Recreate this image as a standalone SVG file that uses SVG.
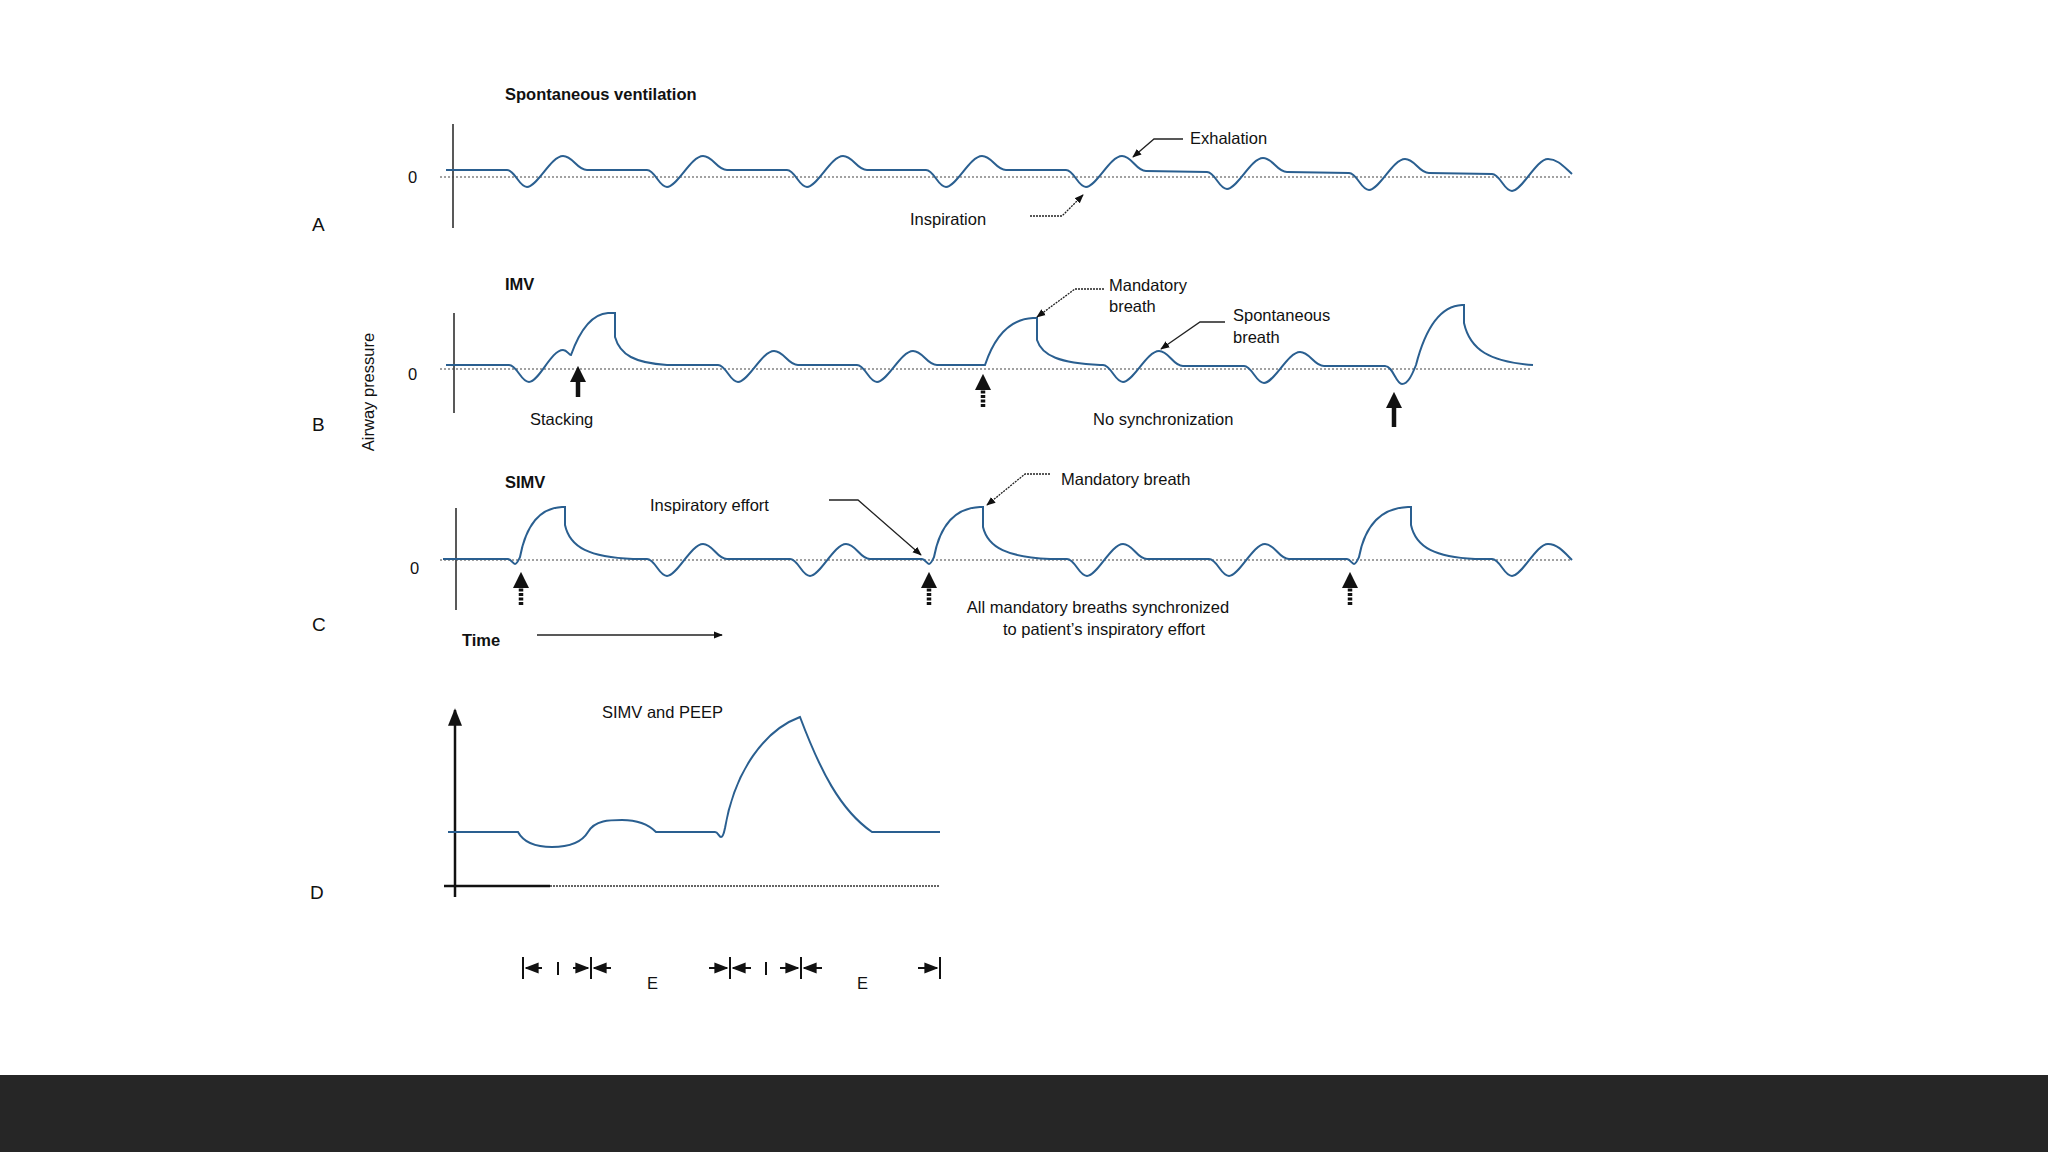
<svg xmlns="http://www.w3.org/2000/svg" width="2048" height="1152" viewBox="0 0 2048 1152">
<style>
text{font-family:"Liberation Sans",Arial,sans-serif;font-size:16.5px;fill:#111}
.b{font-weight:bold}
.big{font-size:19px}
.tr{fill:none;stroke:#2a5f90;stroke-width:2}
.ax{stroke:#222;stroke-width:1.5;fill:none}
.dot{stroke:#444;stroke-width:1.2;stroke-dasharray:2 2;fill:none}
.ld{stroke:#222;stroke-width:1.3;fill:none}
.up{stroke:#111;stroke-width:4.5;fill:none}
.hat{stroke:#111;stroke-width:4.5;stroke-dasharray:3 1.5;fill:none}
</style>
<defs>
<marker id="ah" viewBox="0 0 10 10" refX="9" refY="5" markerWidth="7" markerHeight="7" orient="auto"><path d="M0,1 L10,5 L0,9 Z" fill="#111"/></marker>
<marker id="big" viewBox="0 0 10 10" refX="5" refY="5" markerWidth="3.6" markerHeight="3.6" orient="auto"><path d="M0,0 L10,5 L0,10 Z" fill="#111"/></marker>
</defs>
<rect width="2048" height="1152" fill="#fff"/>
<rect x="0" y="1075" width="2048" height="77" fill="#262626"/>

<g id="panelA">
<text x="505" y="100" class="b">Spontaneous ventilation</text>
<text x="408" y="183">0</text>
<text x="312" y="231" class="big">A</text>
<line class="ax" x1="453" y1="124" x2="453" y2="228"/>
<line class="dot" x1="440" y1="177" x2="1570" y2="177"/>
<path class="tr" d="M446,170 L507,170 C515,170 519,187 527,187 C537,187 551,156 563,156 C573,156 577,170 587,170 L647,170 C655,170 659,187 667,187 C677,187 691,156 703,156 C713,156 717,170 727,170 L787,170 C795,170 799,187 807,187 C817,187 831,156 843,156 C853,156 857,170 867,170 L926,170 C934,170 938,187 946,187 C956,187 970,156 982,156 C992,156 996,170 1006,170 L1066,170 C1074,170 1078,187 1086,187 C1096,187 1110,156 1122,156 C1132,156 1136,171 1146,171 L1207,172 C1215,172 1219,189 1227,189 C1237,189 1251,158 1263,158 C1273,158 1277,172 1287,172 L1349,173 C1357,173 1361,190 1369,190 C1379,190 1393,159 1405,159 C1415,159 1419,173 1429,173 L1492,174 C1500,174 1504,191 1512,191 C1522,191 1536,159 1548,159 C1558,159 1565,168 1572,174"/>
<text x="1190" y="144">Exhalation</text>
<polyline class="ld" points="1183,139 1154,139 1133,157" marker-end="url(#ah)"/>
<text x="910" y="225">Inspiration</text>
<polyline class="ld" stroke-dasharray="2 1" points="1030,216 1062,216 1083,195" marker-end="url(#ah)"/>
</g>

<g id="panelB">
<text x="505" y="290" class="b">IMV</text>
<text x="408" y="380">0</text>
<text x="312" y="431" class="big">B</text>
<text x="0" y="0" transform="translate(374,392) rotate(-90)" text-anchor="middle">Airway pressure</text>
<line class="ax" x1="454" y1="313" x2="454" y2="413"/>
<line class="dot" x1="440" y1="369" x2="1532" y2="369"/>
<path class="tr" d="M446,365 L509,365 C517,365 521,382 529,382 C539,382 551,350 563,350 C567,350 569,355 571,355 C580,330 592,314 608,313 L615,313 L615,337 C620,355 635,363 667,365 L718,365 C726,365 730,382 738,382 C748,382 762,351 774,351 C784,351 788,365 798,365 L857,365 C865,365 869,382 877,382 C887,382 901,351 913,351 C923,351 927,365 937,365 L985,365 C995,335 1010,319 1033,318 L1037,318 L1037,340 C1042,356 1060,363 1100,365 L1103,365 C1111,365 1115,382 1123,382 C1133,382 1147,351 1159,351 C1169,351 1173,366 1183,366 L1244,366 C1252,366 1256,383 1264,383 C1274,383 1288,352 1300,352 C1310,352 1314,366 1324,366 L1385,366 C1393,366 1396,384 1402,384 C1408,384 1412,375 1416,365 C1425,330 1440,306 1462,305 L1464,305 L1464,323 C1470,350 1490,362 1533,365"/>
<line class="up" x1="578" y1="397" x2="578" y2="374" marker-end="url(#big)"/>
<line class="hat" x1="983" y1="407" x2="983" y2="382" marker-end="url(#big)"/>
<line class="up" x1="1394" y1="427" x2="1394" y2="400" marker-end="url(#big)"/>
<text x="530" y="425">Stacking</text>
<text x="1093" y="425">No synchronization</text>
<text x="1109" y="291">Mandatory</text>
<text x="1109" y="312">breath</text>
<polyline class="ld" stroke-dasharray="2 1" points="1104,289 1075,289 1037,317" marker-end="url(#ah)"/>
<text x="1233" y="321">Spontaneous</text>
<text x="1233" y="343">breath</text>
<polyline class="ld" points="1225,322 1200,322 1161,349" marker-end="url(#ah)"/>
</g>

<g id="panelC">
<text x="505" y="488" class="b">SIMV</text>
<text x="410" y="574">0</text>
<text x="312" y="631" class="big">C</text>
<line class="ax" x1="456" y1="508" x2="456" y2="610"/>
<line class="dot" x1="440" y1="560" x2="1570" y2="560"/>
<path class="tr" d="M443,559 L508,559 C511,559 513,564 515,564 C517,564 519,559 520,557 C526,525 540,508 562,507 L565,507 L565,525 C570,548 590,557 633,559 L647,559 C655,559 659,576 667,576 C677,576 691,544 703,544 C713,544 717,559 727,559 L790,559 C798,559 802,576 810,576 C820,576 834,544 846,544 C856,544 860,559 870,559 L922,559 C925,559 927,564 929,564 C931,564 933,559 934,557 C940,525 956,508 980,507 L983,507 L983,527 C988,548 1008,557 1050,559 L1067,559 C1075,559 1079,576 1087,576 C1097,576 1111,544 1123,544 C1133,544 1137,559 1147,559 L1209,559 C1217,559 1221,576 1229,576 C1239,576 1253,544 1265,544 C1275,544 1279,559 1289,559 L1347,559 C1350,559 1352,564 1354,564 C1356,564 1358,559 1359,557 C1365,525 1382,508 1408,507 L1411,507 L1411,525 C1416,548 1436,557 1475,559 L1492,559 C1500,559 1504,576 1512,576 C1522,576 1536,544 1548,544 C1558,544 1565,553 1572,560"/>
<line class="hat" x1="521" y1="605" x2="521" y2="580" marker-end="url(#big)"/>
<line class="hat" x1="929" y1="605" x2="929" y2="580" marker-end="url(#big)"/>
<line class="hat" x1="1350" y1="605" x2="1350" y2="580" marker-end="url(#big)"/>
<text x="650" y="511">Inspiratory effort</text>
<polyline class="ld" points="829,500 858,500 921,555" marker-end="url(#ah)"/>
<text x="1061" y="485">Mandatory breath</text>
<polyline class="ld" stroke-dasharray="2 1" points="1050,474 1025,474 987,505" marker-end="url(#ah)"/>
<text x="1098" y="613" text-anchor="middle">All mandatory breaths synchronized</text>
<text x="1104" y="635" text-anchor="middle">to patient’s inspiratory effort</text>
<text x="462" y="646" class="b">Time</text>
<line class="ld" x1="537" y1="635" x2="722" y2="635" marker-end="url(#ah)"/>
</g>

<g id="panelD">
<text x="602" y="718">SIMV and PEEP</text>
<text x="310" y="899" class="big">D</text>
<line x1="455" y1="897" x2="455" y2="710" stroke="#111" stroke-width="2.5" marker-end="url(#ah)"/>
<line x1="444" y1="886" x2="550" y2="886" stroke="#111" stroke-width="2.5"/>
<line x1="550" y1="886" x2="940" y2="886" stroke="#333" stroke-width="1.5" stroke-dasharray="2 1"/>
<path class="tr" d="M448,832 L518,832 C525,845 540,847 552,847 C570,847 582,842 588,832 C595,820 610,820 622,820 C640,820 650,826 656,832 L715,832 C718,832 719,837 721,837 C723,837 724,833 725,828 C735,770 765,730 800,717 C820,770 840,810 872,832 L940,832"/>
<g id="timing" stroke="#111" stroke-width="2" fill="none">
<line x1="523" y1="957" x2="523" y2="979"/>
<line x1="542" y1="968" x2="526" y2="968" marker-end="url(#ah)"/>
<line x1="558" y1="962" x2="558" y2="975"/>
<line x1="573" y1="968" x2="588" y2="968" marker-end="url(#ah)"/>
<line x1="591" y1="957" x2="591" y2="979"/>
<line x1="611" y1="968" x2="594" y2="968" marker-end="url(#ah)"/>
<line x1="709" y1="968" x2="727" y2="968" marker-end="url(#ah)"/>
<line x1="730" y1="957" x2="730" y2="979"/>
<line x1="751" y1="968" x2="733" y2="968" marker-end="url(#ah)"/>
<line x1="766" y1="962" x2="766" y2="975"/>
<line x1="780" y1="968" x2="798" y2="968" marker-end="url(#ah)"/>
<line x1="801" y1="957" x2="801" y2="979"/>
<line x1="822" y1="968" x2="804" y2="968" marker-end="url(#ah)"/>
<line x1="918" y1="968" x2="937" y2="968" marker-end="url(#ah)"/>
<line x1="940" y1="957" x2="940" y2="979"/>
</g>
<text x="647" y="989">E</text>
<text x="857" y="989">E</text>
</g>
</svg>
